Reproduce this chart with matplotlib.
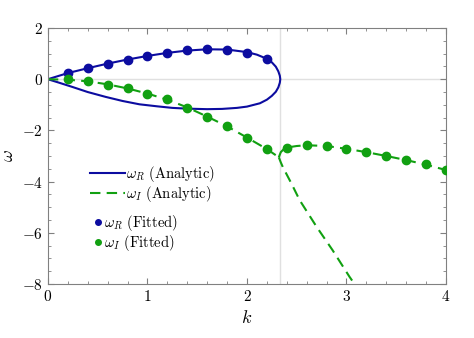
import matplotlib
matplotlib.use('Agg')
import matplotlib.pyplot as plt
from matplotlib.lines import Line2D
from matplotlib.ticker import MultipleLocator

plt.rcParams['font.family'] = 'serif'
plt.rcParams['font.serif'] = ['cmr10']
plt.rcParams['mathtext.fontset'] = 'cm'
plt.rcParams['axes.formatter.use_mathtext'] = True
plt.rcParams['axes.unicode_minus'] = True

# analytic omega_R (closed loop, upper then lower branch)
k_real = [0, 0.1, 0.2, 0.4, 0.6, 0.8, 1.0, 1.2, 1.4, 1.6, 1.8, 2.0, 2.1,
          2.2, 2.25, 2.29, 2.315, 2.33, 2.335,
          2.33, 2.315, 2.29, 2.25, 2.2, 2.13, 2.0, 1.9, 1.75, 1.6, 1.4,
          1.25, 1.1, 0.92, 0.75, 0.58, 0.4, 0.245, 0.1, 0]
w_real = [0, 0.12, 0.24, 0.43, 0.61, 0.77, 0.91, 1.03, 1.12, 1.17, 1.16,
          1.06, 0.96, 0.80, 0.66, 0.49, 0.31, 0.14, 0.0,
          -0.14, -0.32, -0.49, -0.65, -0.80, -0.94, -1.07, -1.12, -1.16,
          -1.17, -1.15, -1.12, -1.06, -0.98, -0.85, -0.69, -0.50, -0.30,
          -0.12, 0]

# analytic omega_I: main branch up to branch point, then two branches
k_imag = [0, 0.2, 0.4, 0.6, 0.8, 1.0, 1.2, 1.4, 1.6, 1.8, 2.0, 2.2, 2.32]
w_imag = [0, -0.02, -0.08, -0.2, -0.36, -0.56, -0.8, -1.1, -1.46, -1.84,
          -2.28, -2.73, -3.05]
k_imag_up = [2.32, 2.34, 2.37, 2.4, 2.5, 2.6, 2.8, 3.0, 3.2, 3.4, 3.6,
             3.8, 4.0]
w_imag_up = [-3.05, -2.85, -2.73, -2.67, -2.61, -2.58, -2.61, -2.72,
             -2.85, -3.0, -3.16, -3.34, -3.55]
k_imag_down = [2.32, 2.34, 2.36, 2.45, 2.53, 2.7, 2.86, 3.03, 3.08]
w_imag_down = [-3.05, -3.25, -3.43, -4.1, -4.73, -5.77, -6.68, -7.72, -8.0]

# fitted points
k_fit_r = [0.2, 0.4, 0.6, 0.8, 1.0, 1.2, 1.4, 1.6, 1.8, 2.0, 2.2]
w_fit_r = [0.25, 0.42, 0.61, 0.77, 0.91, 1.04, 1.13, 1.17, 1.16, 1.04, 0.81]
k_fit_i = [0.2, 0.4, 0.6, 0.8, 1.0, 1.2, 1.4, 1.6, 1.8, 2.0, 2.2,
           2.4, 2.6, 2.8, 3.0, 3.2, 3.4, 3.6, 3.8, 4.0]
w_fit_i = [0.0, -0.08, -0.21, -0.36, -0.56, -0.79, -1.11, -1.46, -1.84,
           -2.28, -2.73, -2.68, -2.58, -2.62, -2.72, -2.85, -3.0, -3.16,
           -3.33, -3.55]

k_branch = 2.33

blue = '#0c0ca0'
green = '#11a011'
frame = '#808080'

fig = plt.figure(figsize=(4.74, 3.38), dpi=100)
ax = fig.add_axes([0.101, 0.160, 0.840, 0.757])

ax.axhline(0, color='#e0e0e0', lw=1.0, zorder=0)
ax.axvline(k_branch, color='#e0e0e0', lw=1.0, zorder=0)

ax.plot(k_real, w_real, color=blue, lw=1.5, zorder=2)
dash = (5, 3)
for kk, ww in ((k_imag, w_imag), (k_imag_up, w_imag_up),
               (k_imag_down, w_imag_down)):
    ax.plot(kk, ww, color=green, lw=1.5, dashes=dash, zorder=2)

ax.plot(k_fit_r, w_fit_r, 'o', color=blue, ms=6, zorder=3)
ax.plot(k_fit_i, w_fit_i, 'o', color=green, ms=6, zorder=3)

ax.set_xlim(0, 4)
ax.set_ylim(-8, 2)
ax.xaxis.set_major_locator(MultipleLocator(1))
ax.xaxis.set_minor_locator(MultipleLocator(0.2))
ax.yaxis.set_major_locator(MultipleLocator(2))
ax.yaxis.set_minor_locator(MultipleLocator(0.5))
ax.tick_params(which='both', direction='in', top=True, right=True,
               colors=frame, labelcolor='black', labelsize=11)
ax.tick_params(which='major', length=4)
ax.tick_params(which='minor', length=2.5)
for sp in ax.spines.values():
    sp.set_color(frame)

ax.set_xlabel(r'$k$', fontsize=13)
ax.set_ylabel(r'$\omega$', fontsize=13)

h1 = [Line2D([], [], color=blue, lw=1.5),
      Line2D([], [], color=green, lw=1.5, dashes=dash)]
leg1 = ax.legend(h1, [r'$\omega_R$ (Analytic)', r'$\omega_I$ (Analytic)'],
                 loc='upper left', bbox_to_anchor=(0.09, 0.49),
                 frameon=False, fontsize=10.5, handlelength=2.4,
                 handletextpad=0.1, labelspacing=0.0, borderaxespad=0)
ax.add_artist(leg1)
h2 = [Line2D([], [], color=blue, marker='o', ms=4, ls=''),
      Line2D([], [], color=green, marker='o', ms=4, ls='')]
ax.legend(h2, [r'$\omega_R$ (Fitted)', r'$\omega_I$ (Fitted)'],
          loc='upper left', bbox_to_anchor=(0.1, 0.30),
          frameon=False, fontsize=10.5, handlelength=0.6,
          handletextpad=0.1, labelspacing=0.0, borderaxespad=0)

fig.savefig('out.png', dpi=100)
